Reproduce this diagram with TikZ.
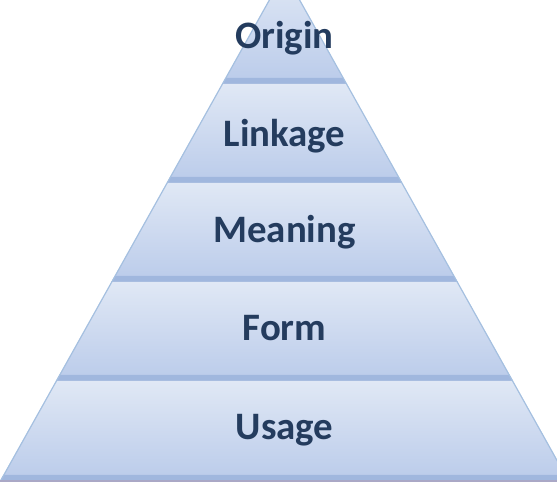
\documentclass[tikz,border=0pt]{standalone}
\usepackage{fontspec}
\setmainfont{Carlito}
\usetikzlibrary{calc}
\definecolor{layertop}{RGB}{224,232,245}
\definecolor{layerbot}{RGB}{186,203,234}
\definecolor{layerband}{RGB}{160,183,222}
\definecolor{layeredge}{RGB}{165,192,224}
\definecolor{baseedge}{RGB}{170,168,198}
\definecolor{labeltext}{RGB}{36,60,94}
\begin{document}
\begin{tikzpicture}[x=1bp,y=1bp]
\tikzstyle{level}=[font=\fontsize{39}{39}\selectfont\bfseries,text=labeltext,anchor=base,inner sep=0pt]
\useasboundingbox (0,0) rectangle (557,501);
\clip (0,0) rectangle (557,501);
\coordinate (apex) at (284.5,528);
\coordinate (baseL) at (0.5,20);
\coordinate (baseR) at (568.5,20);
\foreach \yt/\yb in {528/417,417/318,318/219,219/120,120/20}{
  \pgfmathsetmacro{\wt}{0.56*(528-\yt)}
  \pgfmathsetmacro{\wb}{0.56*(528-\yb)}
  \pgfmathsetmacro{\wm}{0.56*(528-\yb-6)}
  \shade[top color=layertop,bottom color=layerbot] (284.5-\wt,\yt) -- (284.5+\wt,\yt) -- (284.5+\wb,\yb) -- (284.5-\wb,\yb) -- cycle;
  \fill[layerband] (284.5-\wm,\yb+6) -- (284.5+\wm,\yb+6) -- (284.5+\wb,\yb) -- (284.5-\wb,\yb) -- cycle;
}
\draw[layeredge,line width=1.2] (baseL) -- (apex) -- (baseR);
\draw[baseedge,line width=2] (baseL) -- (baseR);
\node[level] (origin) at (284.5,452) {Origin};
\node[level] (linkage) at (284.5,354) {Linkage};
\node[level] (meaning) at (284.5,258) {Meaning};
\node[level] (form) at (284.5,160) {Form};
\node[level] (usage) at (284.5,61) {Usage};
\end{tikzpicture}
\end{document}
